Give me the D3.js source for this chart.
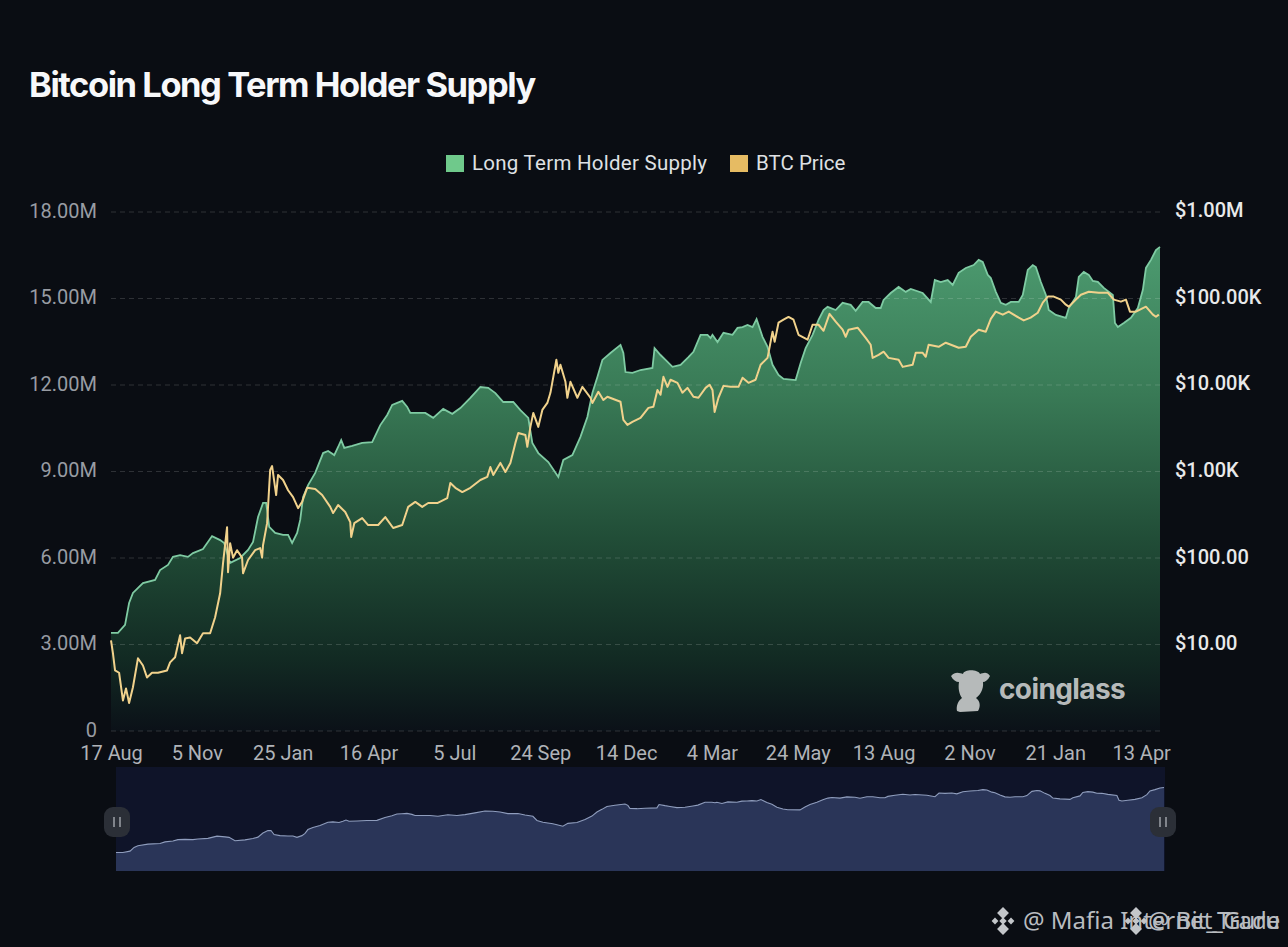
<!DOCTYPE html>
<html><head>
<meta charset="utf-8">
<title>Bitcoin Long Term Holder Supply</title>
<script src="https://d3js.org/d3.v7.min.js"></script>
<style>
  body { margin: 0; background-color: #0a0d13; }
  svg { display: block; }
  .title { font-family: 'Inter'; font-weight: 700; font-size: 34.5px; letter-spacing: -1.45px; fill: #f7f8fa; }
  .legend { font-family: 'Roboto'; font-size: 20.5px; fill: #dfe1e4; }
  .left-axis text { font-family: 'Roboto'; font-size: 20px; fill: #989ca3; }
  .right-axis text { font-family: 'Roboto'; font-size: 20px; font-weight: 500; fill: #e8e9ea; }
  .x-axis text { font-family: 'Roboto'; font-size: 20px; fill: #b0b3b8; }
  .brand { font-family: 'Inter'; font-weight: 700; font-size: 28px; letter-spacing: -0.6px; fill: #b6baba; }
  .mark { font-family: 'Noto Sans'; font-size: 24px; fill: #b9bcc0; }
</style>
</head>
<body>
<svg id="chart" width="1288" height="947"></svg>
<script>

// days counted from 17 Aug
const supplyDays = [0,36,73,94,114,166,229,255,296,322,359,400,426,478,525,567,588,619,671,712,738,764,790,806,811,822,853,894,920,941,967,983,998,1024,1061,1102,1128,1160,1180,1196,1212,1253,1305,1357,1399,1435,1461,1487,1513,1539,1555,1596,1633,1674,1726,1773,1815,1867,1919,1960,1997,2038,2090,2127,2168,2189,2220,2272,2324,2350,2397,2439,2475,2501,2527,2553,2595,2647,2662,2673,2709,2751,2813,2824,2855,2881,2917,2959,3000,3026,3063,3099,3115,3125,3151,3182,3229,3255,3281,3307,3333,3354,3385,3411,3437,3468,3494,3557,3583,3609,3645,3676,3702,3723,3765,3801,3843,3869,3905,3936,3973,3999,4014,4051,4092,4129,4155,4217,4259,4280,4311,4347,4373,4404,4441,4482,4508,4529,4555,4571,4597,4623,4649,4675,4716,4737,4763,4789,4805,4831,4857,4872,4909,4961,4976,5013,5028,5054,5080,5101,5127,5158,5205,5216,5231,5262,5299,5335,5361,5377,5403,5429,5450];
const supplyMillions = [3.40,3.40,3.68,4.44,4.79,5.13,5.24,5.58,5.76,6.04,6.10,6.04,6.17,6.31,6.76,6.62,6.52,5.83,6.00,6.28,6.56,7.42,7.91,7.91,7.67,7.08,6.87,6.80,6.80,6.52,6.87,7.32,8.12,8.53,8.95,9.64,9.71,9.57,9.85,10.09,9.82,9.89,9.99,10.02,10.61,10.96,11.31,11.38,11.45,11.24,11.03,11.03,11.03,10.86,11.17,11.00,11.20,11.55,11.93,11.90,11.72,11.41,11.41,11.13,10.86,9.99,9.64,9.33,8.81,9.40,9.57,10.20,10.89,11.72,12.28,12.87,13.11,13.39,13.11,12.45,12.42,12.52,12.59,13.28,13.04,12.87,12.63,12.70,12.97,13.15,13.74,13.74,13.63,13.74,13.49,13.81,13.74,13.98,14.01,14.08,14.01,14.29,13.67,13.32,12.70,12.35,12.21,12.17,12.76,13.28,13.74,14.26,14.60,14.71,14.60,14.85,14.78,14.57,14.88,14.88,14.67,14.67,14.95,15.19,15.40,15.23,15.33,15.19,14.88,15.64,15.57,15.64,15.47,15.89,16.06,16.16,16.34,16.27,15.82,15.71,15.23,14.85,14.78,14.88,14.88,15.12,15.99,16.16,16.09,15.57,15.12,14.60,14.43,14.33,14.67,15.05,15.75,15.92,15.82,15.61,15.58,15.37,15.12,14.15,14.01,14.15,14.33,14.67,15.30,16.06,16.34,16.68,16.79];

const priceDays = [0,10,21,42,62,78,94,114,140,166,187,213,244,291,307,333,359,369,385,411,447,478,515,541,567,582,603,608,619,634,655,681,686,712,749,775,785,790,811,827,837,858,868,894,920,946,972,993,1019,1061,1097,1139,1154,1180,1217,1243,1248,1264,1305,1336,1388,1425,1466,1513,1544,1581,1617,1648,1695,1747,1763,1789,1825,1867,1919,1955,1971,1986,2023,2049,2075,2101,2116,2153,2163,2179,2194,2220,2241,2267,2283,2298,2314,2324,2335,2361,2371,2387,2423,2449,2491,2501,2532,2558,2579,2647,2662,2683,2709,2751,2792,2818,2839,2855,2870,2891,2907,2943,2969,2995,3026,3052,3089,3110,3125,3136,3156,3182,3219,3260,3281,3312,3349,3375,3411,3416,3437,3448,3468,3494,3520,3546,3572,3619,3645,3676,3702,3733,3765,3801,3817,3832,3879,3921,3947,3957,3988,4014,4040,4092,4113,4165,4181,4217,4233,4248,4300,4337,4404,4441,4467,4508,4545,4571,4597,4633,4664,4716,4742,4778,4815,4841,4867,4898,4935,4961,4976,5013,5039,5080,5132,5179,5210,5247,5273,5294,5325,5377,5413,5429,5444];
const priceUsd = [11.1,7.9,5.0,4.7,2.25,3.1,2.1,3.2,6.9,5.7,4.15,4.7,4.7,5.0,6.2,7.1,12.7,7.9,11.7,12,10.3,13.4,13.4,20.5,38.8,86,225,68,147,100,122,100,66,94,122,129,100,140,250,1030,1140,528,900,787,600,500,373,440,640,620,528,385,327,405,336,257,173,250,286,238,238,294,220,238,385,440,385,427,427,487,727,640,572,640,787,855,1112,900,1240,973,1240,2110,2750,2600,1900,3230,4680,3230,5070,6100,7980,12200,19200,13600,16800,10700,7000,10700,7000,9350,7000,6100,8200,6600,7200,6300,3890,3400,3690,4100,5350,5500,8620,7580,12200,9350,11300,10400,8000,9100,7200,7000,9100,9900,8620,4800,7000,9600,9350,9350,11900,10400,11300,16800,20200,23100,40500,31000,51400,55700,60000,55700,37300,32700,48700,48700,41500,65000,52800,42700,35400,42700,45000,34400,28600,20200,21900,23800,20200,19200,15900,16800,23100,23100,20800,28600,27100,30200,26400,27100,35400,42700,40500,57000,69000,63700,69000,58800,54600,58800,67000,87700,103000,103000,95000,83000,78700,95000,108000,117000,114000,114000,95000,90000,95000,69000,69000,78700,63700,60200,63700];

const xTickDays = [0,446,892,1338,1784,2230,2676,3122,3568,4014,4460,4906,5352];
const xTickLabels = ['17 Aug','5 Nov','25 Jan','16 Apr','5 Jul','24 Sep','14 Dec','4 Mar','24 May','13 Aug','2 Nov','21 Jan','13 Apr'];
const supplyTicks = [0,3,6,9,12,15,18];
const priceTicks = [10,100,1000,10000,100000,1000000];
const priceTickLabels = ['$10.00','$100.00','$1.00K','$10.00K','$100.00K','$1.00M'];
const legendNames = ['Long Term Holder Supply','BTC Price'];

const supply = supplyDays.map((d, i) => ({ day: d, value: supplyMillions[i] }));
const price = priceDays.map((d, i) => ({ day: d, value: priceUsd[i] }));

const svg = d3.select("#chart");
const plot = { left: 111, right: 1160, top: 212, bottom: 731 };
const lastDay = 5450;

const x = d3.scaleLinear().domain([0, lastDay]).range([plot.left, plot.right]);
const ySupply = d3.scaleLinear().domain([0, 18]).range([plot.bottom, plot.top]);
const yPrice = d3.scaleLog().domain([1, 1000000]).range([plot.bottom, plot.top - 1]);

// gradient under the supply line
const defs = svg.append("defs");
const grad = defs.append("linearGradient").attr("id", "supplyFill")
  .attr("gradientUnits", "userSpaceOnUse")
  .attr("x1", 0).attr("x2", 0).attr("y1", 250).attr("y2", plot.bottom);
grad.append("stop").attr("offset", "0%").attr("stop-color", "#4c9a6f");
grad.append("stop").attr("offset", "30%").attr("stop-color", "#397a56");
grad.append("stop").attr("offset", "60%").attr("stop-color", "#214d37");
grad.append("stop").attr("offset", "85%").attr("stop-color", "#122a23");
grad.append("stop").attr("offset", "100%").attr("stop-color", "#0b1118");

// title and legend
svg.append("text").attr("class", "title").attr("x", 29).attr("y", 97)
  .text("Bitcoin Long Term Holder Supply");

const legendItems = [
  { x: 446, fill: "#6fc98b", name: legendNames[0], spacing: 0.26 },
  { x: 730, fill: "#e6bb63", name: legendNames[1], spacing: 0 }
];
legendItems.forEach(d => {
  svg.append("rect").attr("x", d.x).attr("y", 155).attr("width", 18).attr("height", 17).attr("fill", d.fill);
  svg.append("text").attr("class", "legend").attr("x", d.x + 26).attr("y", 169.5)
    .attr("letter-spacing", d.spacing).text(d.name);
});

// area first, grid on top of it
const area = d3.area().x(d => x(d.day)).y0(plot.bottom).y1(d => ySupply(d.value));
const supplyLine = d3.line().x(d => x(d.day)).y(d => ySupply(d.value));
const priceLine = d3.line().x(d => x(d.day)).y(d => yPrice(d.value));

svg.append("path").datum(supply).attr("d", area).attr("fill", "url(#supplyFill)");

svg.append("g").selectAll("line").data(supplyTicks).join("line")
  .attr("x1", plot.left).attr("x2", plot.right)
  .attr("y1", d => ySupply(d)).attr("y2", d => ySupply(d))
  .attr("stroke", "#ffffff").attr("stroke-opacity", 0.15)
  .attr("stroke-dasharray", "5 4");

svg.append("path").datum(supply).attr("d", supplyLine)
  .attr("fill", "none").attr("stroke", "#7fcba3").attr("stroke-width", 1.8);
svg.append("path").datum(price).attr("d", priceLine)
  .attr("fill", "none").attr("stroke", "#f1d28c").attr("stroke-width", 2)
  .attr("stroke-linejoin", "round");

// axes
const leftAxis = d3.axisLeft(ySupply).tickValues(supplyTicks).tickSize(0).tickPadding(14)
  .tickFormat(d => d === 0 ? "0" : d.toFixed(2) + "M");
svg.append("g").attr("class", "left-axis")
  .attr("transform", `translate(${plot.left},-1)`).call(leftAxis)
  .call(g => g.select(".domain").remove());

const rightAxis = d3.axisRight(yPrice).tickValues(priceTicks).tickSize(0).tickPadding(15)
  .tickFormat((d, i) => priceTickLabels[i]);
svg.append("g").attr("class", "right-axis")
  .attr("transform", `translate(${plot.right},-1)`).call(rightAxis)
  .call(g => g.select(".domain").remove());

const bottomAxis = d3.axisBottom(x).tickValues(xTickDays).tickSize(0).tickPadding(7)
  .tickFormat((d, i) => xTickLabels[i]);
svg.append("g").attr("class", "x-axis")
  .attr("transform", `translate(0,${plot.bottom + 8})`).call(bottomAxis)
  .call(g => g.select(".domain").remove());

// coinglass watermark
const logo = svg.append("g").attr("transform", "translate(951,668)").attr("fill", "#b6baba");
logo.append("path").attr("d", "M0 8 C4 3 9 5 12 6 C13 1 27 1 29 6 C32 5 36 3 39 8 C37 12 34 14 32 14 C33 22 28 28 25 30 C29 33 30 38 27 43 L9 44 L6 43 C5 38 7 33 11 30 C8 26 7 20 8 14 C5 14 2 12 0 8 Z");
svg.append("text").attr("class", "brand").attr("x", 999).attr("y", 699).text("coinglass");

// overview below the chart
const miniX = d3.scaleLinear().domain([0, lastDay]).range([116, 1164]);
const miniY = d3.scaleLinear().domain([0, 21]).range([869, 767]);
svg.append("rect").attr("x", 116).attr("y", 767).attr("width", 1049).attr("height", 104).attr("fill", "#0f1429");
svg.append("path").datum(supply)
  .attr("d", d3.area().x(d => miniX(d.day)).y0(871).y1(d => miniY(d.value)))
  .attr("fill", "#2a3558");
svg.append("path").datum(supply)
  .attr("d", d3.line().x(d => miniX(d.day)).y(d => miniY(d.value)))
  .attr("fill", "none").attr("stroke", "#8f9dbd").attr("stroke-width", 1.1);

[117, 1163].forEach(cx => {
  svg.append("rect").attr("x", cx - 13).attr("y", 807).attr("width", 26).attr("height", 30).attr("rx", 9).attr("fill", "#2b2f37");
  [-3, 3].forEach(o => {
    svg.append("rect").attr("x", cx + o - 1).attr("y", 817).attr("width", 2).attr("height", 10).attr("fill", "#80848b");
  });
});

// repost marks, drawn over each other like in the screenshot
function repostMark(cx, label, textX) {
  const g = svg.append("g").attr("transform", `translate(${cx},921)`).attr("fill", "#c3c6ca");
  [[0, -8, 4.2], [-8, 0, 2.4], [8, 0, 2.4], [0, 8, 4.2], [0, 0, 2.6]].forEach(p => {
    g.append("rect").attr("x", p[0] - p[2]).attr("y", p[1] - p[2])
      .attr("width", p[2] * 2).attr("height", p[2] * 2)
      .attr("transform", `rotate(45 ${p[0]} ${p[1]})`);
  });
  svg.append("text").attr("class", "mark").attr("x", textX).attr("y", 929).text(label);
}
repostMark(1003, "@ Mafia Internet_Guru", 1023);
repostMark(1136, "@ Bit_Trade", 1148);

</script>
</body>
</html>
